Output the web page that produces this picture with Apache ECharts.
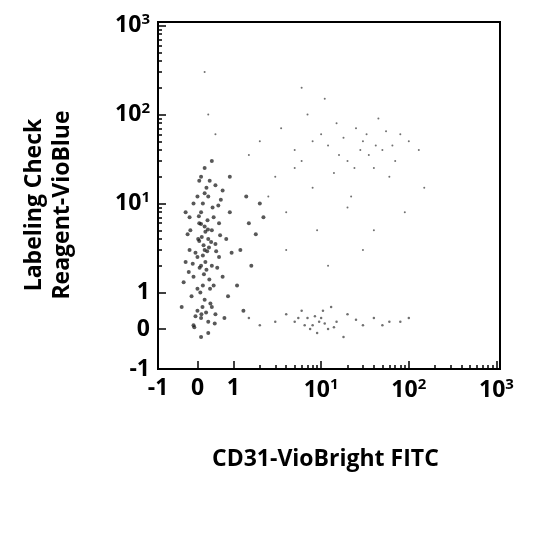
<!DOCTYPE html>
<html><head><meta charset="utf-8">
<script src="https://cdn.jsdelivr.net/npm/echarts@6/dist/echarts.min.js"></script>
<style>html,body{margin:0;background:#fff}#chart{width:540px;height:540px}</style>
</head><body><div id="chart"></div>
<script>
// tick values (data units) and their labels
const majorValues = [-1, 0, 1, 10, 100, 1000];
const majorLabels = ['-1', '0', '1', '10{s|1}', '10{s|2}', '10{s|3}'];
const minorValues = [2,3,4,5,6,7,8,9,20,30,40,50,60,70,80,90,200,300,400,500,600,700,800,900];

// events: main population (CD31-), CD31+ population, scattered upper events
const mainPop = [[0.1,2],[0.2,3],[-0.1,1.5],[0.3,4],[0,2.5],[0.15,1.2],[-0.2,3],[0.4,5],[0.05,6],[0.25,1.8],
  [-0.3,2.2],[0.5,3.5],[0.1,8],[0.2,0.8],[0,0.5],[-0.15,0.9],[0.35,1.1],[0.6,2.5],[0.45,7],[0.15,10],
  [0.3,12],[-0.25,4.5],[0.05,3.8],[0.2,5.5],[0.1,0.3],[0.3,0.2],[-0.1,0.1],[0.5,0.4],[0.7,1.5],[0.8,4],
  [0.9,8],[0.65,11],[0.25,15],[0.05,18],[0.4,2],[-0.05,2.8],[0.12,4.2],[0.28,6.5],[0.18,1.6],[-0.35,1.3],
  [0.55,1.9],[0.08,1],[0.22,2.2],[0.32,3.2],[0.02,4],[-0.18,5],[0.42,9],[0.6,6],[0.14,0.6],[0.36,0.7],
  [-0.08,0.05],[0.48,0.15],[0.75,0.3],[0.1,-0.2],[0.3,-0.1],[1.2,3],[1.5,6],[1.1,1.2],[2,10],[1.3,0.5],
  [0.2,25],[0.4,30],[0.1,20],[-0.2,7],[0.7,14],[-0.4,0.6],[-0.3,8],[0.0,12],[0.5,16],[0.9,20],
  [0.15,2.6],[0.27,2.9],[0.06,1.9],[-0.12,2.1],[0.38,3.7],[0.22,4.8],[0.1,5.9],[0.33,1.4],[0.45,1.2],[0.0,1.1],
  [-0.22,1.7],[0.17,3.4],[0.29,5.1],[0.04,7.2],[0.52,2.9],[0.63,4.4],[0.11,0.4],[0.24,0.45],[0.4,0.6],[-0.05,0.35],
  [1.6,2],[1.8,4.5],[2.2,7],[1.4,12],[0.85,0.9],[0.95,2.8],[0.58,9.5],[0.2,13],[0.34,18],[-0.1,10]];
const posPop = [[5,0.2],[8,0.1],[10,0.3],[12,0],[15,0.2],[20,0.4],[6,0.5],[9,-0.1],[7,0.3],[11,0.15],
  [14,0.05],[25,0.25],[30,0.1],[40,0.3],[3,0.2],[4,0.4],[50,0.1],[60,0.2],[18,-0.2],[13,0.6],
  [2,0.1],[1.5,0.3],[80,0.2],[100,0.3],[6.5,0.1],[8.5,0.35],[9.5,0.2],[7.5,0],[10.5,0.5],[5.5,0.3]];
const upperPop = [[3,20],[5,40],[10,60],[20,30],[30,50],[50,40],[8,15],[15,80],[40,25],[2,50],
  [4,8],[6,30],[12,45],[25,70],[35,35],[60,20],[80,60],[100,50],[2.5,12],[7,100],
  [18,55],[45,90],[70,30],[9,5],[14,22],[22,12],[28,40],[55,65],[3.5,70],[1.5,35],
  [11,150],[6,200],[130,40],[150,15],[90,8],[40,5],[0.5,60],[0.3,100],[0.2,300],[16,35],
  [24,25],[33,60],[42,45],[5,25],[8,50],[65,45],[20,9],[4,3],[30,3],[12,2]];

// biexponential-like display transform
function tf(v) {
  if (v >= 1) return 0.86 + Math.log10(v);
  if (v >= 0) return 0.45 + v * 0.41;
  return 0.45 + v * 0.45;
}
const conv = a => a.map(p => [tf(p[0]), tf(p[1])]);
const majorPos = majorValues.map(tf);
const minorPos = minorValues.map(tf);

const rich = { s: { fontSize: 15, fontWeight: 'bold', verticalAlign: 'top', padding: [0, 0, 12, 0], fontFamily: 'Open Sans' } };
function fmt(v) {
  let best = 0;
  majorPos.forEach((p, i) => { if (Math.abs(p - v) < Math.abs(majorPos[best] - v)) best = i; });
  return majorLabels[best];
}
const labelStyle = { fontSize: 23, fontWeight: 'bold', color: '#000', fontFamily: 'Open Sans', rich: rich };
function mkAxis(dim, minor) {
  return {
    type: 'value', min: 0, max: 3.9,
    position: dim === 'x' ? 'bottom' : 'left',
    splitLine: { show: false },
    axisLine: { show: !minor, lineStyle: { color: '#000', width: 2 } },
    axisTick: { inside: true, length: minor ? 4 : 8, lineStyle: { color: '#000', width: 1.5 },
      customValues: minor ? minorPos : majorPos },
    axisLabel: { show: !minor, customValues: majorPos, formatter: fmt, margin: 8, ...labelStyle }
  };
}
const chart = echarts.init(document.getElementById('chart'));
const dot = (d, size, op) => ({ type: 'scatter', data: conv(d), symbolSize: size, silent: true,
  itemStyle: { color: '#111', opacity: op } });
chart.setOption({
  animation: false,
  grid: { left: 158, right: 40, top: 22, bottom: 171, show: true, borderColor: '#000', borderWidth: 2 },
  xAxis: [mkAxis('x', false), mkAxis('x', true)],
  yAxis: [mkAxis('y', false), mkAxis('y', true)],
  series: [dot(mainPop, 4, 0.7), dot(posPop, 2.5, 0.6), dot(upperPop, 2, 0.6)],
  graphic: [
    { type: 'text', left: 212, top: 448, style: { text: 'CD31-VioBright FITC', fontSize: 23, fontWeight: 'bold', fontFamily: 'Open Sans', fill: '#000' } },
    { type: 'text', rotation: Math.PI / 2, x: 20, y: 205, style: { text: 'Labeling Check\nReagent-VioBlue', fontSize: 23, fontWeight: 'bold', fontFamily: 'Open Sans', fill: '#000', lineHeight: 28, align: 'center' } }
  ]
});
</script></body></html>
